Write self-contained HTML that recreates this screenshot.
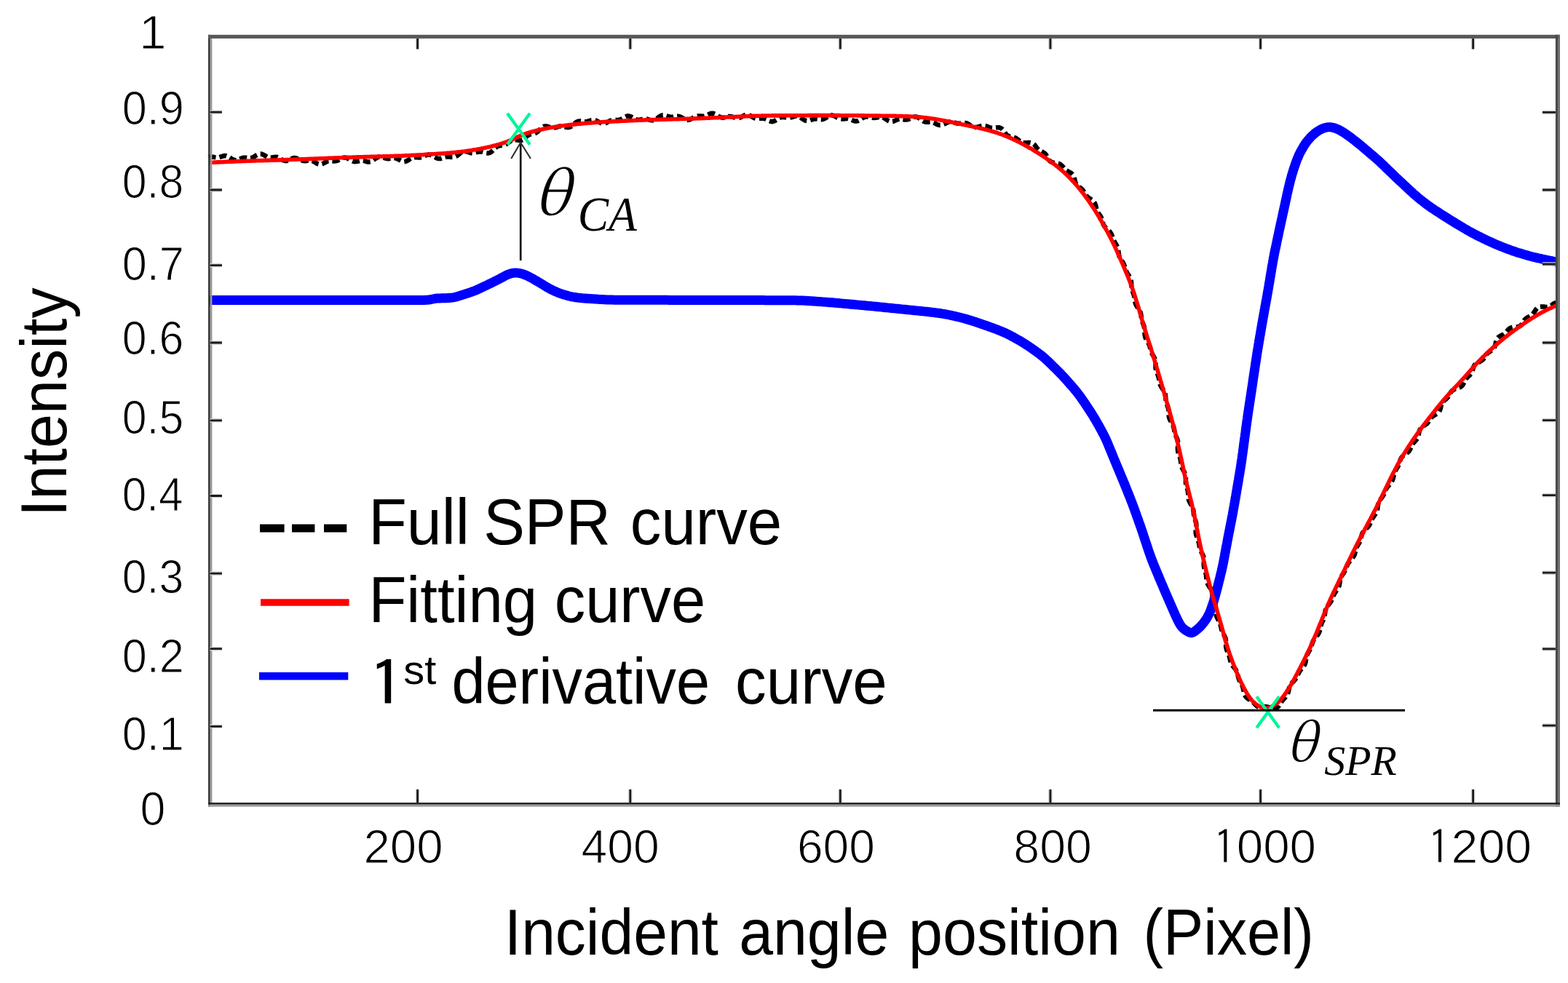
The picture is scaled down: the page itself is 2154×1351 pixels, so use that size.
<!DOCTYPE html><html><head><meta charset="utf-8"><style>html,body{margin:0;padding:0;background:#fff;}svg{display:block;}.s{font-family:"Liberation Sans",Arial,sans-serif;fill:#000;}.m{font-family:"Liberation Serif","Times New Roman",serif;font-style:italic;fill:#000;}.i{font-family:"IPAGothic","Liberation Sans",sans-serif;fill:#000;}.t{font-family:"Noto Serif CJK SC","Liberation Serif",serif;font-style:italic;fill:#000;}</style></head><body>
<svg width="2154" height="1351" viewBox="0 0 2154 1351">
<rect width="2154" height="1351" fill="#fff"/>
<path d="M286.7 216.4L288.6 215.7L290.6 215.5L292.6 215.7L294.7 216.1L296.7 216.4L298.7 216.5L300.7 216.3L302.7 215.7L304.6 215.1L306.6 214.4L308.6 214.1L310.6 214.2L312.6 214.9L314.7 215.9L316.8 217.3L318.8 218.6L320.9 219.6L322.9 220.2L324.9 220.2L326.9 219.7L328.9 218.9L330.8 218L332.8 217.2L334.8 216.8L336.8 216.7L338.8 216.8L340.8 217.1L342.8 217.3L344.8 217.1L346.8 216.5L348.8 215.6L350.7 214.3L352.7 213.1L354.7 212.1L356.7 211.6L358.7 211.6L360.7 212.2L362.7 213.2L364.8 214.4L366.8 215.5L368.8 216.2L370.8 216.6L372.8 216.6L374.8 216.3L376.8 215.9L378.8 215.7L380.8 216L382.8 216.9L384.9 218L386.9 219.2L388.9 220.2L391 220.9L393 221.1L395 220.7L396.9 219.9L398.9 218.8L400.9 217.9L402.8 217.2L404.8 217L406.8 217.3L408.9 218L410.9 218.9L412.9 219.9L415 220.7L417 221.1L419 221.2L421 221L423 220.5L425 220.2L427 220.4L429 221L431 222L433.1 223.3L435.1 224.5L437.2 225.4L439.2 225.9L441.2 225.8L443.2 225.1L445.1 224.1L447.1 223L449.1 222L451 221.3L453 221.1L455 221.1L457 221.3L459 221.4L461 221.3L463 220.8L465 220L467 218.9L468.9 217.8L470.9 216.9L472.9 216.5L474.9 216.6L476.9 217.3L478.9 218.4L481 219.7L483 220.9L485 221.7L487.1 222.2L489.1 222.1L491 221.8L493 221.3L495 220.8L497 220.7L499 220.9L501 221.3L503 221.9L505 222.4L507.1 222.5L509 222.2L511 221.3L513 220L514.9 218.6L516.9 217.2L518.9 216.1L520.9 215.5L522.9 215.5L524.9 215.9L526.9 216.6L528.9 217.4L530.9 217.9L532.9 218.2L534.9 218.1L536.9 217.8L538.9 217.4L540.9 217.2L542.9 217.3L544.9 217.8L547 218.8L549 219.9L551.1 221L553.1 221.8L555.2 222.2L557.2 221.9L559.1 221.1L561.1 219.9L563.1 218.6L565 217.5L567 216.6L569 216.2L571 216.1L573 216.3L575 216.5L577 216.5L579 216.1L581 215.5L582.9 214.5L584.8 213.6L586.8 212.8L588.8 212.5L590.8 212.6L592.9 213.4L594.9 214.5L597 215.8L599.1 216.9L601.2 217.8L603.2 218.1L605.2 218L607.2 217.4L609.1 216.7L611.1 216L613.1 215.5L615.1 215.4L617.1 215.5L619.2 215.8L621.2 216L623.3 216L625.2 215.5L627.2 214.5L629.1 213.1L630.9 211.5L632.8 210L634.6 208.8L636.6 208.2L638.6 208L640.6 208.4L642.7 209L644.9 209.7L647 210.3L649.1 210.5L651.1 210.3L653 209.8L655 209.2L656.9 208.7L658.9 208.4L661 208.5L663.2 208.9L665.4 209.5L667.6 210.1L669.8 210.4L671.8 210.2L673.7 209.5L675.5 208.2L677.2 206.6L678.8 204.8L680.5 203.1L682.2 201.8L684.1 200.8L686 200.3L688 200L690.1 199.8L692.1 199.4L694 198.8L695.8 197.9L697.5 196.7L699.2 195.3L700.9 194.1L702.6 193.1L704.5 192.4L706.7 192.2L709 192.3L711.3 192.6L713.6 192.9L715.6 192.9L717.5 192.5L719.2 191.6L720.8 190.3L722.2 188.8L723.7 187.3L725.3 186L727.1 185.1L728.9 184.4L730.8 184.1L732.8 183.7L734.7 183.2L736.5 182.4L738.2 181.2L739.9 179.7L741.6 177.9L743.2 176.2L745 174.8L746.8 173.8L748.8 173.5L750.9 173.6L753 174.2L755.2 174.9L757.3 175.4L759.4 175.7L761.4 175.6L763.4 175.2L765.3 174.6L767.2 173.9L769.2 173.5L771.2 173.4L773.2 173.7L775.3 174.2L777.4 174.7L779.4 175.1L781.4 175.1L783.3 174.5L785.2 173.4L787.1 171.9L788.9 170.2L790.7 168.7L792.6 167.4L794.6 166.7L796.6 166.4L798.6 166.6L800.6 166.9L802.7 167.2L804.7 167.3L806.7 167L808.7 166.5L810.6 165.8L812.6 165.2L814.6 164.9L816.6 165L818.7 165.6L820.7 166.6L822.8 167.8L824.9 168.9L826.9 169.7L829 170L830.9 169.7L832.9 168.9L834.8 167.8L836.8 166.7L838.7 165.7L840.7 165.1L842.7 164.8L844.7 164.8L846.7 164.9L848.7 165L850.7 164.7L852.7 164.1L854.6 163.1L856.6 161.9L858.5 160.7L860.5 159.8L862.5 159.4L864.5 159.6L866.5 160.3L868.6 161.4L870.6 162.6L872.7 163.7L874.7 164.5L876.7 164.8L878.7 164.7L880.7 164.3L882.7 163.8L884.7 163.5L886.7 163.4L888.7 163.7L890.7 164.2L892.8 164.8L894.8 165.3L896.8 165.4L898.8 164.9L900.7 164L902.7 162.7L904.7 161.2L906.6 159.8L908.6 158.8L910.6 158.3L912.6 158.3L914.6 158.8L916.6 159.5L918.6 160.2L920.6 160.7L922.7 160.8L924.6 160.7L926.6 160.3L928.6 159.9L930.6 159.7L932.6 160L934.6 160.6L936.7 161.6L938.7 162.8L940.7 163.9L942.8 164.7L944.8 165L946.8 164.7L948.8 163.9L950.7 162.7L952.7 161.5L954.6 160.4L956.6 159.7L958.6 159.4L960.6 159.4L962.6 159.6L964.6 159.8L966.6 159.7L968.6 159.3L970.6 158.6L972.5 157.7L974.5 156.7L976.4 156L978.4 155.8L980.4 156L982.5 156.9L984.5 158.1L986.6 159.4L988.6 160.6L990.7 161.4L992.7 161.7L994.7 161.5L996.7 161L998.6 160.3L1000.6 159.9L1002.6 159.9L1004.6 160.2L1006.7 160.8L1008.7 161.5L1010.7 162.1L1012.8 162.4L1014.8 162.3L1016.7 161.6L1018.7 160.6L1020.6 159.5L1022.6 158.4L1024.6 157.8L1026.6 157.7L1028.6 158.1L1030.6 159L1032.7 160.2L1034.7 161.4L1036.7 162.4L1038.7 163.1L1040.7 163.3L1042.7 163L1044.7 162.7L1046.7 162.5L1048.7 162.7L1050.7 163.2L1052.7 164.1L1054.7 165.2L1056.7 166.2L1058.7 166.9L1060.7 167.1L1062.7 166.7L1064.7 165.8L1066.7 164.5L1068.7 163.2L1070.7 162.1L1072.6 161.3L1074.6 160.9L1076.6 161L1078.6 161.4L1080.6 161.7L1082.6 161.9L1084.6 161.8L1086.6 161.4L1088.6 160.8L1090.6 160.1L1092.6 159.6L1094.6 159.5L1096.6 159.9L1098.6 160.9L1100.6 162.2L1102.7 163.6L1104.7 164.9L1106.7 165.8L1108.7 166.1L1110.7 165.9L1112.7 165.4L1114.7 164.6L1116.7 163.9L1118.6 163.4L1120.6 163.3L1122.6 163.5L1124.6 163.8L1126.6 164.1L1128.6 164.2L1130.6 163.8L1132.6 163L1134.6 161.9L1136.6 160.6L1138.6 159.4L1140.6 158.7L1142.6 158.4L1144.6 158.8L1146.6 159.6L1148.6 160.7L1150.6 161.9L1152.6 162.8L1154.6 163.4L1156.6 163.6L1158.6 163.4L1160.6 163.2L1162.6 163L1164.6 163L1166.6 163.4L1168.6 164.2L1170.6 165.1L1172.6 166L1174.6 166.5L1176.6 166.6L1178.6 166.2L1180.6 165.2L1182.6 163.9L1184.6 162.5L1186.6 161.4L1188.6 160.6L1190.6 160.3L1192.6 160.4L1194.6 160.9L1196.6 161.5L1198.6 161.9L1200.6 162.1L1202.6 161.9L1204.6 161.5L1206.6 161L1208.6 160.7L1210.6 160.7L1212.6 161.2L1214.6 162.2L1216.6 163.5L1218.6 164.9L1220.5 166.1L1222.5 167L1224.5 167.3L1226.5 167L1228.5 166.3L1230.5 165.4L1232.5 164.5L1234.5 163.9L1236.5 163.6L1238.5 163.7L1240.5 164L1242.4 164.4L1244.4 164.5L1246.4 164.3L1248.4 163.8L1250.4 162.9L1252.5 161.9L1254.5 161L1256.6 160.5L1258.6 160.5L1260.5 161.1L1262.4 162.2L1264.3 163.6L1266.2 165.1L1268 166.3L1269.9 167.2L1271.8 167.7L1273.8 167.8L1275.7 167.7L1277.7 167.6L1279.7 167.7L1281.6 168.2L1283.5 169L1285.3 170L1287.1 171L1289 171.7L1290.9 172.1L1292.9 172L1295 171.3L1297.2 170.4L1299.5 169.4L1301.7 168.2L1303.9 167.4L1306 167.1L1308 167.3L1310 167.9L1311.8 168.6L1313.8 169.3L1315.7 169.7L1317.7 169.8L1319.8 169.6L1321.9 169.2L1324 169L1326.1 169L1328 169.4L1329.9 170.3L1331.7 171.5L1333.5 172.8L1335.3 173.9L1337.1 174.7L1339.1 174.9L1341.2 174.8L1343.3 174.4L1345.5 173.8L1347.8 173.2L1349.9 172.8L1352 172.8L1354 173.1L1355.9 173.8L1357.8 174.6L1359.7 175.3L1361.7 175.8L1363.7 175.9L1365.9 175.7L1368.1 175.4L1370.4 175.2L1372.5 175.3L1374.5 175.9L1376.3 177.1L1377.9 178.8L1379.3 180.7L1380.7 182.7L1382.2 184.5L1383.8 186L1385.5 187.1L1387.4 187.7L1389.4 188.1L1391.5 188.5L1393.5 189L1395.4 189.7L1397.1 190.8L1398.7 192.1L1400.2 193.5L1401.8 194.7L1403.6 195.7L1405.6 196.2L1407.8 196.3L1410.2 196.2L1412.6 196L1415 195.9L1417.1 196.3L1419 197.1L1420.6 198.4L1422 200L1423.3 201.8L1424.6 203.6L1426 205.2L1427.5 206.6L1429.3 207.6L1431.1 208.5L1432.9 209.4L1434.6 210.5L1436.2 211.8L1437.5 213.5L1438.6 215.4L1439.6 217.5L1440.7 219.4L1442 221.1L1443.5 222.3L1445.4 223.2L1447.5 223.7L1449.8 224.1L1452 224.4L1454.2 224.9L1456.2 225.7L1457.9 226.9L1459.3 228.3L1460.7 229.9L1462 231.5L1463.4 232.9L1465 234.2L1466.8 235.3L1468.6 236.3L1470.5 237.3L1472.2 238.5L1473.6 240L1474.7 241.8L1475.5 243.9L1476.1 246.1L1476.6 248.4L1477.2 250.5L1478 252.5L1479.2 254.2L1480.6 255.6L1482.2 256.8L1483.9 258L1485.5 259.3L1487 260.7L1488.2 262.3L1489.3 264L1490.3 265.7L1491.3 267.5L1492.5 269.1L1493.9 270.6L1495.5 271.9L1497.3 273.1L1499.2 274.3L1500.9 275.5L1502.4 277L1503.6 278.6L1504.5 280.4L1505.2 282.4L1505.6 284.5L1506.1 286.6L1506.7 288.6L1507.5 290.5L1508.4 292.3L1509.5 294L1510.7 295.6L1511.8 297.3L1512.8 299L1513.5 300.9L1514.2 302.9L1514.7 304.9L1515.2 306.9L1515.9 308.8L1516.9 310.5L1518.1 312.1L1519.5 313.6L1521.1 315.1L1522.7 316.5L1524.2 318L1525.4 319.6L1526.5 321.3L1527.3 323.1L1528 325L1528.6 327L1529.3 328.9L1530.1 330.7L1531.1 332.5L1532.1 334.2L1533.2 335.9L1534.2 337.7L1535.1 339.5L1535.7 341.4L1536.1 343.4L1536.4 345.5L1536.7 347.6L1537 349.6L1537.4 351.6L1538.1 353.5L1539 355.3L1540.1 357L1541.2 358.7L1542.3 360.4L1543.3 362.2L1544.1 364L1544.8 365.9L1545.4 367.8L1545.9 369.7L1546.6 371.6L1547.4 373.5L1548.4 375.2L1549.5 376.9L1550.6 378.6L1551.7 380.4L1552.6 382.1L1553.3 384L1553.8 386L1554 388.1L1554.1 390.2L1554.2 392.3L1554.4 394.3L1554.7 396.3L1555.2 398.3L1555.8 400.2L1556.5 402L1557.2 403.9L1557.8 405.8L1558.2 407.8L1558.5 409.8L1558.8 411.8L1559.1 413.8L1559.5 415.7L1560.1 417.6L1560.9 419.5L1561.9 421.2L1563 423L1564.2 424.7L1565.3 426.5L1566.2 428.3L1566.9 430.2L1567.3 432.1L1567.6 434.1L1567.9 436.1L1568.2 438.1L1568.6 440.1L1569.2 442L1569.8 443.9L1570.6 445.8L1571.3 447.7L1571.8 449.6L1572.2 451.5L1572.4 453.6L1572.5 455.6L1572.5 457.7L1572.6 459.8L1572.9 461.8L1573.4 463.7L1574.2 465.6L1575.1 467.4L1576.2 469.2L1577.3 470.9L1578.2 472.7L1579 474.6L1579.6 476.5L1580.2 478.4L1580.6 480.3L1581.2 482.3L1581.8 484.2L1582.6 486L1583.6 487.8L1584.6 489.6L1585.6 491.4L1586.4 493.2L1587 495.1L1587.3 497.1L1587.5 499.2L1587.5 501.3L1587.5 503.3L1587.5 505.4L1587.8 507.4L1588.3 509.4L1588.9 511.3L1589.7 513.1L1590.4 515L1591.1 516.9L1591.7 518.8L1592.1 520.7L1592.5 522.7L1592.8 524.7L1593.2 526.7L1593.8 528.6L1594.6 530.4L1595.6 532.2L1596.7 534L1597.9 535.7L1598.9 537.5L1599.8 539.3L1600.5 541.2L1600.9 543.2L1601.1 545.2L1601.3 547.2L1601.5 549.2L1601.8 551.2L1602.3 553.2L1602.9 555.1L1603.5 557L1604.2 558.9L1604.8 560.8L1605.2 562.8L1605.4 564.8L1605.5 566.8L1605.5 568.9L1605.6 570.9L1605.9 572.9L1606.4 574.9L1607.1 576.7L1608.1 578.5L1609.1 580.3L1610.2 582.1L1611.1 583.9L1611.9 585.8L1612.4 587.7L1612.9 589.7L1613.2 591.6L1613.6 593.6L1614 595.5L1614.7 597.5L1615.4 599.3L1616.2 601.2L1617 603.1L1617.6 605L1618.1 606.9L1618.3 608.9L1618.2 611L1618.1 613.1L1617.9 615.2L1617.9 617.2L1618 619.2L1618.3 621.2L1618.9 623.1L1619.5 625L1620.3 626.9L1620.9 628.8L1621.5 630.7L1621.8 632.7L1622.1 634.7L1622.3 636.7L1622.6 638.7L1623.1 640.6L1623.7 642.5L1624.6 644.4L1625.5 646.2L1626.5 648.1L1627.4 649.9L1628.2 651.8L1628.6 653.7L1628.9 655.7L1628.9 657.8L1628.9 659.8L1628.9 661.9L1629 663.9L1629.3 665.9L1629.8 667.8L1630.4 669.7L1631 671.7L1631.5 673.6L1631.9 675.5L1632.1 677.6L1632.3 679.6L1632.3 681.6L1632.4 683.7L1632.7 685.7L1633.2 687.6L1634 689.4L1634.9 691.3L1635.9 693.1L1637 694.9L1637.9 696.7L1638.7 698.6L1639.2 700.5L1639.5 702.5L1639.7 704.5L1639.9 706.5L1640.2 708.5L1640.6 710.4L1641.2 712.3L1641.8 714.2L1642.4 716.2L1642.9 718.1L1643.3 720.1L1643.4 722.1L1643.3 724.1L1643 726.2L1642.8 728.3L1642.6 730.4L1642.7 732.4L1643 734.4L1643.6 736.3L1644.3 738.2L1645.1 740.1L1645.8 742L1646.4 743.9L1646.9 745.9L1647.3 747.8L1647.6 749.8L1647.9 751.8L1648.3 753.8L1648.9 755.7L1649.7 757.5L1650.7 759.4L1651.6 761.2L1652.5 763.1L1653.2 765L1653.7 766.9L1653.9 768.9L1653.9 771L1653.8 773L1653.7 775.1L1653.8 777.1L1654 779.1L1654.4 781.1L1655 783L1655.6 784.9L1656.2 786.9L1656.7 788.8L1657 790.8L1657.1 792.8L1657.3 794.8L1657.5 796.9L1657.8 798.8L1658.3 800.8L1659.1 802.6L1660.1 804.4L1661.2 806.2L1662.4 808L1663.4 809.8L1664.2 811.6L1664.8 813.6L1665.2 815.5L1665.4 817.5L1665.7 819.5L1666 821.5L1666.5 823.4L1667.1 825.4L1667.9 827.2L1668.6 829.1L1669.3 831L1669.8 832.9L1670.1 834.9L1670.2 836.9L1670.3 839L1670.3 841.1L1670.4 843.2L1670.7 845.2L1671.2 847.1L1672 848.9L1672.9 850.7L1673.9 852.5L1674.9 854.3L1675.8 856.2L1676.4 858L1676.9 860L1677.4 861.9L1677.8 863.9L1678.3 865.8L1678.9 867.7L1679.8 869.6L1680.7 871.4L1681.7 873.2L1682.5 875L1683.3 876.9L1683.8 878.8L1684 880.8L1684.1 882.9L1684.1 885L1684.1 887L1684.2 889.1L1684.6 891.1L1685.1 893L1685.9 894.9L1686.7 896.7L1687.5 898.6L1688.3 900.4L1688.9 902.4L1689.3 904.3L1689.8 906.3L1690.2 908.3L1690.8 910.2L1691.6 912L1692.6 913.8L1693.8 915.5L1695.1 917.1L1696.4 918.8L1697.6 920.4L1698.6 922.2L1699.4 924L1700 925.9L1700.5 927.9L1700.9 929.9L1701.4 931.8L1702.1 933.7L1702.9 935.6L1703.8 937.3L1704.8 939.1L1705.8 940.8L1706.6 942.6L1707.3 944.5L1707.8 946.5L1708.2 948.5L1708.7 950.5L1709.1 952.6L1709.7 954.5L1710.6 956.4L1711.9 958L1713.4 959.4L1715.1 960.7L1716.9 961.8L1718.7 962.9L1720.3 964.1L1721.7 965.4L1723 966.8L1724.3 968.3L1725.7 969.6L1727.3 970.8L1729.2 971.6L1731.2 971.9L1733.2 971.8L1735.3 971.5L1737.2 971.2L1738.9 971.2L1740.5 971.4L1742.4 971.8L1744.5 972.4L1746.9 973L1749.4 973.4L1751.7 973.2L1753.9 972.5L1755.7 971.3L1757.2 969.8L1758.4 968L1759.5 966.1L1760.6 964.3L1761.8 962.6L1763.1 961.1L1764.6 959.6L1766 958.1L1767.3 956.6L1768.4 954.9L1769.2 953L1769.8 951L1770.3 949L1770.7 946.9L1771.1 944.8L1771.8 942.9L1772.7 941.1L1773.8 939.5L1775.2 938L1776.7 936.6L1778.1 935.1L1779.5 933.5L1780.6 931.9L1781.6 930.2L1782.5 928.3L1783.3 926.5L1784.1 924.7L1785.1 922.9L1786.3 921.3L1787.5 919.7L1788.9 918.2L1790.2 916.6L1791.4 914.9L1792.4 913.2L1793.1 911.3L1793.6 909.3L1793.9 907.2L1794.2 905.1L1794.6 903.1L1795.1 901.1L1795.9 899.2L1796.8 897.5L1797.8 895.7L1798.8 894L1799.8 892.2L1800.6 890.4L1801.3 888.5L1801.9 886.6L1802.5 884.7L1803.1 882.8L1803.9 880.9L1804.9 879.2L1806.1 877.5L1807.4 875.9L1808.7 874.3L1810 872.7L1811.2 870.9L1812.1 869.2L1812.8 867.3L1813.3 865.3L1813.7 863.3L1814.1 861.3L1814.6 859.4L1815.3 857.5L1816.1 855.6L1816.9 853.8L1817.8 852L1818.6 850.2L1819.2 848.3L1819.6 846.3L1819.9 844.3L1820.2 842.2L1820.5 840.2L1821 838.2L1821.6 836.3L1822.6 834.5L1823.7 832.9L1825 831.2L1826.3 829.6L1827.5 828L1828.5 826.3L1829.4 824.5L1830.2 822.6L1830.9 820.8L1831.6 818.9L1832.5 817.1L1833.4 815.4L1834.5 813.7L1835.7 812L1836.9 810.4L1838 808.7L1838.9 806.9L1839.6 805L1840 803L1840.4 801L1840.7 798.9L1841 796.9L1841.6 794.9L1842.3 793L1843.3 791.3L1844.4 789.6L1845.5 787.9L1846.6 786.2L1847.5 784.4L1848.4 782.6L1849.1 780.7L1849.8 778.9L1850.5 777L1851.4 775.2L1852.4 773.5L1853.7 771.9L1855 770.3L1856.5 768.8L1857.8 767.2L1859 765.6L1860 763.8L1860.8 762L1861.4 760.1L1861.9 758.1L1862.3 756.1L1862.9 754.1L1863.6 752.3L1864.5 750.5L1865.5 748.8L1866.6 747.1L1867.6 745.3L1868.4 743.5L1869.1 741.6L1869.6 739.6L1870 737.6L1870.6 735.6L1871.2 733.7L1872.1 731.9L1873.3 730.3L1874.6 728.7L1876.2 727.3L1877.7 725.8L1879.2 724.3L1880.4 722.7L1881.5 721L1882.4 719.2L1883.1 717.4L1883.8 715.5L1884.7 713.7L1885.6 711.9L1886.7 710.2L1887.9 708.6L1889.1 706.9L1890.2 705.2L1891.1 703.4L1891.7 701.5L1892.2 699.5L1892.5 697.4L1892.8 695.3L1893.1 693.3L1893.7 691.3L1894.5 689.5L1895.5 687.7L1896.6 686.1L1897.9 684.4L1899 682.8L1900.1 681.1L1901 679.3L1901.8 677.5L1902.6 675.6L1903.3 673.8L1904.2 671.9L1905.2 670.2L1906.4 668.6L1907.8 667L1909.2 665.5L1910.5 663.9L1911.7 662.2L1912.6 660.5L1913.3 658.6L1913.9 656.7L1914.3 654.6L1914.7 652.6L1915.2 650.7L1915.9 648.8L1916.8 647L1917.8 645.3L1918.9 643.6L1919.9 641.9L1920.9 640.1L1921.7 638.3L1922.3 636.4L1922.9 634.4L1923.5 632.5L1924.3 630.6L1925.3 628.9L1926.6 627.3L1928.2 626L1929.9 624.7L1931.7 623.4L1933.4 622.1L1934.9 620.7L1936.1 619.1L1937.1 617.4L1937.9 615.6L1938.7 613.7L1939.5 611.9L1940.6 610.2L1941.8 608.6L1943.1 607.2L1944.5 605.7L1945.8 604.2L1946.9 602.6L1947.8 600.7L1948.4 598.8L1948.9 596.6L1949.3 594.5L1949.8 592.4L1950.6 590.5L1951.7 588.8L1953.1 587.3L1954.7 586.1L1956.5 584.9L1958.2 583.7L1959.9 582.5L1961.3 581L1962.5 579.4L1963.6 577.8L1964.7 576.1L1965.8 574.5L1967.2 573L1968.8 571.7L1970.6 570.6L1972.5 569.5L1974.3 568.4L1975.8 567.1L1977.1 565.6L1978 563.8L1978.7 561.8L1979.2 559.6L1979.7 557.5L1980.4 555.4L1981.3 553.6L1982.5 552L1983.9 550.6L1985.4 549.3L1986.9 548L1988.3 546.6L1989.6 545L1990.7 543.3L1991.6 541.5L1992.6 539.7L1993.7 538L1995.2 536.6L1996.9 535.5L1998.8 534.6L2001 533.9L2003.2 533.2L2005.3 532.4L2007.1 531.4L2008.5 530L2009.7 528.4L2010.7 526.5L2011.6 524.6L2012.5 522.7L2013.6 521L2014.8 519.5L2016.3 518.1L2017.8 516.7L2019.2 515.4L2020.5 513.9L2021.6 512.2L2022.4 510.2L2023.1 508.2L2023.7 506L2024.4 504L2025.3 502.2L2026.6 500.6L2028.2 499.4L2030.1 498.4L2032 497.5L2033.8 496.5L2035.6 495.4L2037.1 494.1L2038.4 492.6L2039.5 490.9L2040.5 489.1L2041.6 487.4L2042.9 485.9L2044.4 484.5L2046.1 483.4L2047.8 482.4L2049.6 481.3L2051.1 480.1L2052.4 478.5L2053.3 476.6L2054 474.4L2054.6 471.9L2055.1 469.4L2055.7 467.1L2056.7 465.1L2058.1 463.6L2059.8 462.4L2061.6 461.4L2063.5 460.5L2065.3 459.6L2066.9 458.4L2068.4 457L2069.8 455.5L2071.1 453.9L2072.5 452.4L2074.2 451.2L2076.1 450.4L2078.2 449.9L2080.5 449.6L2082.9 449.4L2085.1 449.1L2087.1 448.5L2088.9 447.5L2090.3 446.1L2091.5 444.3L2092.7 442.4L2093.8 440.5L2095.1 438.8L2096.6 437.5L2098.3 436.3L2100.1 435.4L2101.9 434.5L2103.6 433.5L2105.2 432.1L2106.6 430.5L2107.8 428.6L2109.1 426.7L2110.4 424.8L2111.9 423.2L2113.6 422.1L2115.6 421.6L2117.9 421.4L2120.3 421.6L2122.7 421.8L2124.9 421.9L2127 421.6L2128.9 421L2130.7 420L2132.3 418.8L2134 417.6L2135.7 416.6L2137.6 415.9" fill="none" stroke="#000" stroke-width="6.5" stroke-dasharray="10 5"/>
<path d="M287 412.6L289 412.6L291 412.6L293 412.6L295 412.6L297 412.6L299 412.6L301 412.6L303 412.6L305 412.6L307 412.6L309 412.6L311 412.6L313 412.6L315 412.6L317 412.6L319 412.6L321 412.6L323 412.6L325 412.6L327 412.6L329 412.6L331 412.6L333 412.6L335 412.6L337 412.6L339 412.6L341 412.6L343 412.6L345 412.6L347 412.6L349 412.6L351 412.6L353 412.6L355 412.6L357 412.6L359 412.6L361 412.6L363 412.6L365 412.6L367 412.6L369 412.6L371 412.6L373 412.6L375 412.6L377 412.6L379 412.6L381 412.6L383 412.6L385 412.6L387 412.6L389 412.6L391 412.6L393 412.6L395 412.6L397 412.6L399 412.6L401 412.6L403 412.6L405 412.6L407 412.6L409 412.6L411 412.6L413 412.6L415 412.6L417 412.6L419 412.6L421 412.6L423 412.6L425 412.5L427 412.5L429 412.5L431 412.5L433 412.5L435 412.5L437 412.5L439 412.5L441 412.5L443 412.5L445 412.5L447 412.5L449 412.5L451 412.5L453 412.5L455 412.5L457 412.5L459 412.5L461 412.5L463 412.5L465 412.5L467 412.5L469 412.5L471 412.5L473 412.5L475 412.5L477 412.5L479 412.5L481 412.5L483 412.5L485 412.5L487 412.5L489 412.5L491 412.5L493 412.5L495 412.5L497 412.5L499 412.5L501 412.5L503 412.5L505 412.5L507 412.5L509 412.5L511 412.5L513 412.5L515 412.5L517 412.5L519 412.5L521 412.5L523 412.5L525 412.5L527 412.5L529 412.5L531 412.5L533 412.5L535 412.5L537 412.5L539 412.5L541 412.5L543 412.5L545 412.5L547 412.5L549 412.5L551 412.5L553 412.5L555 412.5L557 412.5L559 412.5L561 412.5L563 412.5L565 412.5L567 412.5L569 412.5L571 412.5L573 412.5L575 412.5L577 412.5L579 412.5L581 412.4L583 412.4L585 412.3L586.9 412.2L588.9 412L590.9 411.7L592.8 411.4L594.7 411L596.7 410.6L598.6 410.2L600.6 410L602.6 409.9L604.6 409.9L606.6 409.8L608.6 409.8L610.6 409.7L612.6 409.7L614.6 409.6L616.5 409.5L618.5 409.3L620.5 409.1L622.5 408.9L624.4 408.5L626.3 408.1L628.3 407.5L630.2 406.9L632.1 406.3L634 405.7L635.9 405.1L637.8 404.5L639.7 403.9L641.6 403.3L643.5 402.7L645.4 402L647.3 401.4L649.2 400.7L651 400L652.9 399.3L654.7 398.5L656.5 397.7L658.4 396.8L660.2 396L662 395.1L663.8 394.3L665.6 393.4L667.4 392.6L669.2 391.7L671 390.8L672.8 390L674.6 389.1L676.4 388.2L678.2 387.3L680 386.4L681.8 385.5L683.6 384.6L685.3 383.7L687.1 382.8L688.9 381.8L690.6 380.9L692.4 379.9L694.2 379L695.9 378.1L697.7 377.3L699.6 376.6L701.4 376L703.3 375.5L705.2 375.2L707.2 375.1L709.2 375.1L711.2 375.2L713.1 375.4L715.1 375.8L717 376.3L718.9 376.9L720.7 377.6L722.6 378.3L724.4 379.1L726.2 380L727.9 380.9L729.7 381.9L731.4 382.8L733.2 383.8L734.9 384.8L736.6 385.8L738.4 386.8L740.1 387.8L741.8 388.9L743.5 389.9L745.2 390.9L746.9 392L748.6 393L750.4 394.1L752.1 395.1L753.8 396.1L755.5 397L757.3 398L759.1 398.8L760.9 399.7L762.7 400.5L764.6 401.3L766.4 402.1L768.3 402.8L770.2 403.5L772 404.1L773.9 404.7L775.9 405.3L777.8 405.9L779.7 406.4L781.6 407L783.6 407.4L785.5 407.8L787.5 408.2L789.4 408.5L791.4 408.8L793.4 409.1L795.4 409.3L797.4 409.5L799.4 409.7L801.4 409.9L803.3 410L805.3 410.2L807.3 410.3L809.3 410.4L811.3 410.6L813.3 410.7L815.3 410.8L817.3 411L819.3 411.1L821.3 411.2L823.3 411.4L825.3 411.5L827.3 411.6L829.3 411.7L831.3 411.8L833.3 411.9L835.3 412L837.3 412.1L839.3 412.1L841.3 412.1L843.3 412.2L845.3 412.2L847.3 412.2L849.3 412.2L851.3 412.2L853.3 412.2L855.3 412.2L857.3 412.2L859.3 412.2L861.3 412.2L863.3 412.2L865.3 412.3L867.3 412.3L869.3 412.3L871.3 412.3L873.3 412.3L875.3 412.3L877.3 412.3L879.3 412.3L881.3 412.3L883.3 412.3L885.3 412.3L887.3 412.3L889.3 412.3L891.3 412.3L893.3 412.3L895.3 412.3L897.3 412.3L899.3 412.3L901.3 412.3L903.3 412.3L905.3 412.3L907.3 412.3L909.3 412.3L911.3 412.3L913.3 412.3L915.3 412.3L917.3 412.3L919.3 412.4L921.3 412.4L923.3 412.4L925.3 412.4L927.3 412.4L929.3 412.4L931.3 412.4L933.3 412.4L935.3 412.4L937.3 412.4L939.3 412.4L941.3 412.4L943.3 412.4L945.3 412.4L947.3 412.4L949.3 412.4L951.3 412.4L953.3 412.4L955.3 412.4L957.3 412.4L959.3 412.4L961.3 412.4L963.3 412.4L965.3 412.4L967.3 412.4L969.3 412.4L971.3 412.4L973.3 412.5L975.3 412.5L977.3 412.5L979.3 412.5L981.3 412.5L983.3 412.5L985.3 412.5L987.3 412.5L989.3 412.5L991.3 412.5L993.3 412.5L995.3 412.5L997.3 412.5L999.3 412.5L1001.3 412.5L1003.3 412.5L1005.3 412.5L1007.3 412.5L1009.3 412.5L1011.3 412.5L1013.3 412.5L1015.3 412.5L1017.3 412.6L1019.3 412.6L1021.3 412.6L1023.3 412.6L1025.3 412.6L1027.3 412.6L1029.3 412.6L1031.3 412.6L1033.3 412.6L1035.3 412.6L1037.3 412.6L1039.3 412.6L1041.3 412.6L1043.3 412.6L1045.3 412.6L1047.3 412.6L1049.3 412.6L1051.3 412.7L1053.3 412.7L1055.3 412.7L1057.3 412.7L1059.3 412.7L1061.3 412.7L1063.3 412.7L1065.3 412.7L1067.3 412.7L1069.3 412.7L1071.3 412.7L1073.3 412.7L1075.3 412.7L1077.3 412.7L1079.3 412.7L1081.3 412.7L1083.3 412.8L1085.3 412.8L1087.3 412.8L1089.3 412.8L1091.3 412.8L1093.3 412.8L1095.3 412.9L1097.3 412.9L1099.3 413L1101.3 413.1L1103.3 413.1L1105.3 413.2L1107.3 413.3L1109.3 413.5L1111.2 413.6L1113.2 413.7L1115.2 413.8L1117.2 414L1119.2 414.1L1121.2 414.2L1123.2 414.4L1125.2 414.5L1127.2 414.6L1129.2 414.8L1131.2 414.9L1133.2 415.1L1135.2 415.2L1137.2 415.4L1139.2 415.5L1141.2 415.7L1143.2 415.8L1145.2 416L1147.2 416.2L1149.1 416.4L1151.1 416.5L1153.1 416.7L1155.1 416.9L1157.1 417.1L1159.1 417.3L1161.1 417.4L1163.1 417.6L1165.1 417.8L1167.1 418L1169.1 418.2L1171.1 418.3L1173 418.5L1175 418.7L1177 418.9L1179 419.1L1181 419.3L1183 419.4L1185 419.6L1187 419.8L1189 420L1191 420.2L1193 420.4L1195 420.5L1196.9 420.7L1198.9 420.9L1200.9 421.1L1202.9 421.3L1204.9 421.5L1206.9 421.7L1208.9 421.9L1210.9 422.1L1212.9 422.3L1214.9 422.5L1216.8 422.7L1218.8 422.9L1220.8 423.1L1222.8 423.3L1224.8 423.5L1226.8 423.7L1228.8 423.9L1230.8 424.1L1232.8 424.3L1234.8 424.5L1236.7 424.7L1238.7 424.9L1240.7 425.1L1242.7 425.3L1244.7 425.5L1246.7 425.7L1248.7 425.9L1250.7 426.1L1252.7 426.3L1254.7 426.5L1256.6 426.7L1258.6 426.9L1260.6 427.1L1262.6 427.3L1264.6 427.5L1266.6 427.7L1268.6 427.9L1270.6 428.1L1272.6 428.3L1274.6 428.5L1276.5 428.7L1278.5 429L1280.5 429.2L1282.5 429.4L1284.5 429.7L1286.5 430L1288.4 430.2L1290.4 430.5L1292.4 430.8L1294.4 431.1L1296.3 431.4L1298.3 431.8L1300.3 432.1L1302.2 432.5L1304.2 432.9L1306.2 433.3L1308.1 433.7L1310.1 434.2L1312 434.6L1314 435.1L1315.9 435.5L1317.8 436L1319.8 436.5L1321.7 437L1323.7 437.5L1325.6 438L1327.5 438.6L1329.4 439.1L1331.3 439.7L1333.2 440.3L1335.1 440.9L1337.1 441.5L1339 442.1L1340.8 442.8L1342.7 443.4L1344.6 444L1346.5 444.7L1348.4 445.3L1350.3 446L1352.2 446.6L1354.1 447.3L1356 447.9L1357.9 448.6L1359.8 449.3L1361.6 450L1363.5 450.6L1365.4 451.3L1367.3 452L1369.1 452.7L1371 453.4L1372.9 454.2L1374.7 454.9L1376.6 455.7L1378.4 456.5L1380.2 457.3L1382 458.1L1383.8 459L1385.6 459.9L1387.4 460.8L1389.1 461.7L1390.9 462.7L1392.6 463.6L1394.4 464.6L1396.1 465.6L1397.9 466.6L1399.6 467.5L1401.4 468.5L1403.1 469.6L1404.8 470.6L1406.5 471.6L1408.2 472.7L1409.9 473.8L1411.5 474.9L1413.2 476L1414.8 477.1L1416.5 478.3L1418.1 479.4L1419.8 480.6L1421.4 481.7L1423 482.9L1424.6 484L1426.2 485.2L1427.8 486.4L1429.4 487.6L1431 488.9L1432.5 490.1L1434.1 491.4L1435.6 492.7L1437 494.1L1438.5 495.4L1440 496.8L1441.4 498.2L1442.8 499.6L1444.3 501L1445.7 502.4L1447.1 503.8L1448.5 505.2L1450 506.6L1451.4 508L1452.8 509.4L1454.2 510.8L1455.6 512.2L1457 513.7L1458.4 515.1L1459.8 516.6L1461.1 518L1462.5 519.5L1463.8 521L1465.2 522.5L1466.5 524L1467.8 525.5L1469.1 527L1470.4 528.5L1471.8 530L1473.1 531.5L1474.4 533L1475.7 534.5L1476.9 536.1L1478.2 537.6L1479.5 539.2L1480.7 540.7L1481.9 542.3L1483.1 543.9L1484.3 545.5L1485.4 547.2L1486.6 548.8L1487.7 550.4L1488.8 552.1L1490 553.7L1491.1 555.4L1492.2 557.1L1493.3 558.7L1494.4 560.4L1495.5 562.1L1496.6 563.7L1497.7 565.4L1498.8 567.1L1499.9 568.8L1500.9 570.5L1502 572.2L1503 573.9L1504 575.6L1505 577.3L1506 579L1507 580.8L1508 582.5L1509 584.3L1510 586L1510.9 587.8L1511.9 589.5L1512.9 591.3L1513.8 593L1514.7 594.8L1515.7 596.6L1516.6 598.3L1517.5 600.1L1518.3 601.9L1519.2 603.7L1520 605.6L1520.8 607.4L1521.6 609.2L1522.4 611.1L1523.1 612.9L1523.9 614.8L1524.6 616.6L1525.4 618.5L1526.2 620.3L1526.9 622.2L1527.7 624L1528.4 625.9L1529.2 627.7L1529.9 629.6L1530.7 631.4L1531.5 633.3L1532.2 635.1L1533 637L1533.8 638.8L1534.5 640.7L1535.3 642.5L1536.1 644.3L1536.9 646.2L1537.6 648L1538.4 649.9L1539.2 651.7L1539.9 653.6L1540.7 655.4L1541.5 657.3L1542.2 659.1L1543 661L1543.8 662.8L1544.5 664.7L1545.3 666.5L1546 668.4L1546.8 670.2L1547.5 672.1L1548.3 673.9L1549 675.8L1549.7 677.7L1550.5 679.5L1551.2 681.4L1552 683.2L1552.7 685.1L1553.4 686.9L1554.1 688.8L1554.9 690.7L1555.6 692.5L1556.3 694.4L1557 696.3L1557.7 698.2L1558.4 700L1559 701.9L1559.7 703.8L1560.4 705.7L1561.1 707.6L1561.7 709.5L1562.4 711.3L1563.1 713.2L1563.8 715.1L1564.4 717L1565.1 718.9L1565.8 720.8L1566.4 722.7L1567.1 724.5L1567.7 726.4L1568.4 728.3L1569 730.2L1569.7 732.1L1570.3 734L1570.9 735.9L1571.5 737.8L1572.2 739.7L1572.8 741.6L1573.4 743.5L1574.1 745.4L1574.7 747.3L1575.3 749.2L1575.9 751.1L1576.6 753L1577.2 754.9L1577.8 756.8L1578.5 758.7L1579.1 760.6L1579.8 762.5L1580.4 764.3L1581.1 766.2L1581.8 768.1L1582.5 770L1583.3 771.8L1584 773.7L1584.7 775.5L1585.5 777.4L1586.3 779.2L1587 781.1L1587.8 782.9L1588.6 784.8L1589.3 786.6L1590.1 788.5L1590.9 790.3L1591.6 792.2L1592.4 794L1593.2 795.9L1594 797.7L1594.7 799.5L1595.5 801.4L1596.3 803.2L1597.1 805.1L1597.9 806.9L1598.6 808.7L1599.4 810.6L1600.2 812.4L1601 814.3L1601.8 816.1L1602.6 817.9L1603.4 819.8L1604.2 821.6L1605 823.4L1605.8 825.3L1606.6 827.1L1607.4 828.9L1608.2 830.8L1609 832.6L1609.8 834.4L1610.6 836.3L1611.4 838.1L1612.2 839.9L1613 841.8L1613.8 843.6L1614.6 845.4L1615.5 847.2L1616.3 849L1617.2 850.8L1618 852.6L1618.9 854.4L1619.8 856.1L1620.8 857.8L1621.8 859.5L1623 861L1624.2 862.5L1625.6 863.8L1627.1 865L1628.7 866.2L1630.3 867.2L1632 868.2L1633.7 869.1L1635.3 869.6L1637 869.7L1638.6 869.3L1640.1 868.5L1641.7 867.4L1643.2 866.2L1644.7 865L1646.2 863.7L1647.7 862.3L1649.1 860.9L1650.4 859.4L1651.7 857.9L1653 856.4L1654.2 854.8L1655.4 853.3L1656.5 851.6L1657.6 850L1658.6 848.3L1659.5 846.5L1660.4 844.8L1661.3 843L1662.1 841.2L1662.8 839.4L1663.5 837.5L1664.2 835.6L1664.8 833.7L1665.4 831.8L1666.1 829.9L1666.7 828L1667.3 826.1L1667.8 824.2L1668.4 822.3L1669 820.4L1669.5 818.5L1670 816.5L1670.6 814.6L1671.1 812.7L1671.6 810.7L1672.1 808.8L1672.6 806.9L1673.1 804.9L1673.6 803L1674 801L1674.5 799.1L1675 797.2L1675.5 795.2L1676 793.3L1676.4 791.3L1676.9 789.4L1677.4 787.5L1677.9 785.5L1678.3 783.6L1678.7 781.6L1679.2 779.7L1679.6 777.7L1680 775.7L1680.4 773.8L1680.8 771.8L1681.2 769.9L1681.5 767.9L1681.9 765.9L1682.3 764L1682.6 762L1683 760L1683.4 758.1L1683.7 756.1L1684.1 754.1L1684.5 752.2L1684.8 750.2L1685.2 748.2L1685.6 746.3L1685.9 744.3L1686.3 742.3L1686.7 740.4L1687 738.4L1687.4 736.4L1687.8 734.5L1688.2 732.5L1688.6 730.6L1689 728.6L1689.4 726.6L1689.7 724.7L1690.1 722.7L1690.5 720.7L1690.9 718.8L1691.3 716.8L1691.7 714.9L1692 712.9L1692.4 710.9L1692.8 709L1693.2 707L1693.5 705L1693.9 703.1L1694.2 701.1L1694.6 699.1L1694.9 697.2L1695.3 695.2L1695.6 693.2L1696 691.3L1696.3 689.3L1696.7 687.3L1697 685.3L1697.3 683.4L1697.7 681.4L1698 679.4L1698.4 677.5L1698.7 675.5L1699 673.5L1699.4 671.5L1699.7 669.6L1700 667.6L1700.4 665.6L1700.7 663.7L1701 661.7L1701.4 659.7L1701.7 657.7L1702 655.8L1702.3 653.8L1702.7 651.8L1703 649.8L1703.3 647.9L1703.6 645.9L1704 643.9L1704.3 641.9L1704.6 640L1704.9 638L1705.2 636L1705.5 634L1705.8 632.1L1706.1 630.1L1706.3 628.1L1706.6 626.1L1706.9 624.1L1707.2 622.2L1707.4 620.2L1707.7 618.2L1708 616.2L1708.2 614.2L1708.5 612.2L1708.7 610.3L1709 608.3L1709.3 606.3L1709.5 604.3L1709.8 602.3L1710.1 600.4L1710.3 598.4L1710.6 596.4L1710.9 594.4L1711.1 592.4L1711.4 590.4L1711.6 588.5L1711.9 586.5L1712.2 584.5L1712.5 582.5L1712.7 580.5L1713 578.5L1713.3 576.6L1713.6 574.6L1713.8 572.6L1714.1 570.6L1714.4 568.6L1714.7 566.7L1715 564.7L1715.3 562.7L1715.6 560.7L1715.9 558.8L1716.2 556.8L1716.5 554.8L1716.8 552.8L1717.1 550.8L1717.4 548.9L1717.7 546.9L1718 544.9L1718.3 542.9L1718.6 541L1718.9 539L1719.2 537L1719.5 535L1719.8 533L1720.1 531.1L1720.4 529.1L1720.7 527.1L1721 525.1L1721.2 523.2L1721.5 521.2L1721.8 519.2L1722.1 517.2L1722.4 515.2L1722.7 513.3L1723 511.3L1723.3 509.3L1723.6 507.3L1723.9 505.4L1724.2 503.4L1724.5 501.4L1724.8 499.4L1725.1 497.4L1725.4 495.5L1725.7 493.5L1726 491.5L1726.3 489.5L1726.6 487.6L1726.9 485.6L1727.2 483.6L1727.5 481.6L1727.8 479.7L1728.2 477.7L1728.5 475.7L1728.8 473.7L1729.2 471.8L1729.5 469.8L1729.8 467.8L1730.2 465.9L1730.5 463.9L1730.8 461.9L1731.2 459.9L1731.5 458L1731.8 456L1732.2 454L1732.5 452.1L1732.9 450.1L1733.2 448.1L1733.5 446.1L1733.9 444.2L1734.2 442.2L1734.6 440.2L1734.9 438.3L1735.3 436.3L1735.6 434.3L1736 432.4L1736.3 430.4L1736.7 428.4L1737 426.4L1737.4 424.5L1737.7 422.5L1738.1 420.5L1738.5 418.6L1738.8 416.6L1739.2 414.6L1739.5 412.7L1739.9 410.7L1740.2 408.7L1740.6 406.8L1740.9 404.8L1741.3 402.8L1741.6 400.9L1741.9 398.9L1742.3 396.9L1742.6 394.9L1743 393L1743.3 391L1743.6 389L1744 387.1L1744.3 385.1L1744.6 383.1L1744.9 381.1L1745.3 379.2L1745.6 377.2L1745.9 375.2L1746.3 373.2L1746.6 371.3L1746.9 369.3L1747.2 367.3L1747.6 365.4L1747.9 363.4L1748.3 361.4L1748.6 359.4L1749 357.5L1749.3 355.5L1749.7 353.5L1750.1 351.6L1750.4 349.6L1750.8 347.7L1751.2 345.7L1751.6 343.7L1752 341.8L1752.5 339.8L1752.9 337.9L1753.3 335.9L1753.7 333.9L1754.1 332L1754.5 330L1754.9 328.1L1755.3 326.1L1755.8 324.2L1756.2 322.2L1756.6 320.3L1757 318.3L1757.4 316.3L1757.8 314.4L1758.3 312.4L1758.7 310.5L1759.1 308.5L1759.5 306.6L1760 304.6L1760.4 302.7L1760.8 300.7L1761.3 298.8L1761.7 296.8L1762.1 294.8L1762.5 292.9L1763 290.9L1763.4 289L1763.8 287L1764.2 285.1L1764.7 283.1L1765.1 281.2L1765.5 279.2L1765.9 277.3L1766.3 275.3L1766.8 273.3L1767.2 271.4L1767.6 269.4L1768 267.5L1768.4 265.5L1768.9 263.6L1769.3 261.6L1769.8 259.7L1770.2 257.7L1770.7 255.8L1771.2 253.8L1771.6 251.9L1772.1 250L1772.6 248L1773.1 246.1L1773.7 244.2L1774.2 242.2L1774.7 240.3L1775.3 238.4L1775.9 236.5L1776.4 234.6L1777 232.7L1777.7 230.8L1778.3 228.9L1779 227L1779.6 225.1L1780.3 223.2L1781 221.3L1781.7 219.5L1782.5 217.6L1783.2 215.8L1784 214L1784.8 212.1L1785.7 210.3L1786.6 208.6L1787.6 206.8L1788.6 205.1L1789.6 203.3L1790.6 201.6L1791.6 199.9L1792.7 198.3L1793.8 196.6L1795 195L1796.2 193.5L1797.5 191.9L1798.8 190.4L1800.1 188.9L1801.5 187.5L1802.9 186.1L1804.4 184.8L1805.9 183.5L1807.5 182.3L1809.1 181.1L1810.7 180L1812.4 179L1814.1 178L1815.9 177.2L1817.7 176.4L1819.6 175.8L1821.5 175.3L1823.4 174.9L1825.3 174.7L1827.3 174.8L1829.2 175L1831.1 175.4L1833.1 175.9L1834.9 176.5L1836.7 177.2L1838.5 178L1840.3 178.9L1842 179.9L1843.7 180.9L1845.4 181.9L1847.1 183L1848.8 184.1L1850.4 185.3L1852 186.4L1853.7 187.6L1855.3 188.8L1856.9 190L1858.4 191.2L1860 192.4L1861.6 193.6L1863.2 194.9L1864.7 196.1L1866.3 197.4L1867.8 198.7L1869.4 199.9L1870.9 201.2L1872.5 202.5L1874 203.8L1875.5 205.1L1877 206.4L1878.6 207.7L1880.1 209L1881.6 210.3L1883.1 211.6L1884.6 212.9L1886.2 214.2L1887.7 215.5L1889.2 216.8L1890.7 218.1L1892.2 219.4L1893.7 220.8L1895.1 222.1L1896.6 223.5L1898.1 224.9L1899.5 226.2L1900.9 227.6L1902.4 229L1903.8 230.4L1905.3 231.8L1906.7 233.2L1908.1 234.5L1909.6 235.9L1911 237.3L1912.5 238.7L1913.9 240.1L1915.3 241.5L1916.8 242.9L1918.2 244.3L1919.7 245.6L1921.1 247L1922.6 248.4L1924 249.7L1925.5 251.1L1927 252.5L1928.4 253.8L1929.9 255.2L1931.4 256.6L1932.8 257.9L1934.3 259.3L1935.7 260.7L1937.2 262L1938.7 263.4L1940.2 264.7L1941.6 266.1L1943.1 267.4L1944.6 268.7L1946.1 270L1947.7 271.3L1949.2 272.6L1950.8 273.8L1952.3 275.1L1953.9 276.3L1955.5 277.6L1957.1 278.8L1958.7 280L1960.3 281.2L1961.9 282.4L1963.5 283.5L1965.1 284.7L1966.8 285.8L1968.4 286.9L1970.1 288L1971.7 289.1L1973.4 290.2L1975.1 291.3L1976.8 292.4L1978.5 293.5L1980.1 294.6L1981.8 295.7L1983.5 296.7L1985.2 297.8L1986.9 298.9L1988.6 299.9L1990.3 301L1992 302.1L1993.7 303.1L1995.4 304.2L1997.1 305.2L1998.8 306.3L2000.5 307.3L2002.2 308.3L2003.9 309.4L2005.6 310.4L2007.3 311.4L2009.1 312.4L2010.8 313.5L2012.5 314.5L2014.2 315.5L2016 316.5L2017.7 317.5L2019.4 318.5L2021.2 319.4L2022.9 320.4L2024.7 321.3L2026.5 322.2L2028.3 323.2L2030 324.1L2031.8 325L2033.6 325.8L2035.4 326.7L2037.2 327.6L2039 328.5L2040.8 329.4L2042.6 330.2L2044.4 331.1L2046.2 331.9L2048 332.8L2049.9 333.6L2051.7 334.4L2053.5 335.2L2055.4 336L2057.2 336.7L2059.1 337.5L2060.9 338.3L2062.8 339L2064.6 339.7L2066.5 340.5L2068.3 341.2L2070.2 341.9L2072.1 342.6L2073.9 343.3L2075.8 344L2077.7 344.7L2079.6 345.3L2081.5 345.9L2083.4 346.6L2085.3 347.2L2087.2 347.7L2089.1 348.3L2091 348.9L2093 349.5L2094.9 350L2096.8 350.6L2098.7 351.1L2100.6 351.7L2102.6 352.2L2104.5 352.7L2106.4 353.2L2108.4 353.7L2110.3 354.1L2112.3 354.6L2114.2 355L2116.2 355.4L2118.1 355.9L2120.1 356.3L2122 356.7L2124 357.1L2125.9 357.5L2127.9 357.9L2129.8 358.3L2131.7 358.7L2133.5 359.1L2135.4 359.5L2137.3 359.9L2139.1 360.3" fill="none" stroke="#0000ff" stroke-width="13" stroke-linejoin="round"/>
<path d="M287 223.5L289 223.4L291 223.3L293 223.2L295 223.1L297 223L299 222.9L301 222.9L303 222.8L305 222.7L307 222.6L309 222.5L311 222.4L313 222.3L315 222.2L317 222.1L319 222.1L321 222L323 221.9L325 221.8L327 221.7L329 221.6L331 221.6L333 221.5L335 221.4L337 221.4L339 221.3L341 221.2L342.9 221.2L344.9 221.1L346.9 221L348.9 221L350.9 220.9L352.9 220.8L354.9 220.8L356.9 220.7L358.9 220.7L360.9 220.6L362.9 220.5L364.9 220.5L366.9 220.4L368.9 220.4L370.9 220.3L372.9 220.2L374.9 220.2L376.9 220.1L378.9 220.1L380.9 220L382.9 219.9L384.9 219.9L386.9 219.8L388.9 219.7L390.9 219.7L392.9 219.6L394.9 219.5L396.9 219.5L398.9 219.4L400.9 219.3L402.9 219.3L404.9 219.2L406.9 219.1L408.9 219L410.9 219L412.9 218.9L414.9 218.8L416.9 218.7L418.9 218.7L420.9 218.6L422.9 218.5L424.9 218.4L426.9 218.4L428.9 218.3L430.9 218.2L432.9 218.1L434.9 218L436.9 218L438.9 217.9L440.9 217.8L442.9 217.7L444.9 217.7L446.9 217.6L448.9 217.5L450.9 217.4L452.9 217.3L454.9 217.3L456.9 217.2L458.9 217.1L460.9 217L462.9 217L464.9 216.9L466.9 216.8L468.9 216.7L470.9 216.7L472.9 216.6L474.9 216.5L476.9 216.4L478.9 216.4L480.9 216.3L482.9 216.2L484.9 216.1L486.9 216.1L488.9 216L490.9 215.9L492.9 215.9L494.9 215.8L496.9 215.8L498.9 215.7L500.9 215.6L502.8 215.6L504.8 215.5L506.8 215.5L508.8 215.4L510.8 215.4L512.8 215.3L514.8 215.2L516.8 215.2L518.8 215.1L520.8 215.1L522.8 215L524.8 215L526.8 214.9L528.8 214.8L530.8 214.8L532.8 214.7L534.8 214.7L536.8 214.6L538.8 214.6L540.8 214.5L542.8 214.4L544.8 214.4L546.8 214.3L548.8 214.2L550.8 214.2L552.8 214.1L554.8 214L556.8 213.9L558.8 213.8L560.8 213.7L562.8 213.6L564.8 213.5L566.8 213.4L568.8 213.3L570.8 213.2L572.8 213.1L574.8 213L576.8 212.9L578.8 212.8L580.8 212.7L582.8 212.5L584.8 212.4L586.8 212.3L588.8 212.2L590.8 212L592.8 211.9L594.8 211.8L596.8 211.7L598.7 211.5L600.7 211.4L602.7 211.3L604.7 211.1L606.7 211L608.7 210.9L610.7 210.7L612.7 210.6L614.7 210.4L616.7 210.2L618.7 210.1L620.7 209.9L622.7 209.7L624.7 209.5L626.6 209.3L628.6 209.1L630.6 208.9L632.6 208.7L634.6 208.4L636.6 208.2L638.5 207.9L640.5 207.6L642.5 207.4L644.5 207.1L646.5 206.8L648.4 206.5L650.4 206.1L652.4 205.8L654.3 205.5L656.3 205.1L658.3 204.8L660.2 204.4L662.2 204L664.1 203.6L666.1 203.2L668 202.8L670 202.3L671.9 201.9L673.9 201.4L675.8 201L677.7 200.5L679.7 200L681.6 199.5L683.5 198.9L685.4 198.4L687.3 197.8L689.2 197.2L691.1 196.6L693 195.9L694.9 195.3L696.8 194.6L698.6 193.9L700.5 193.2L702.3 192.4L704.2 191.6L706 190.7L707.8 189.9L709.5 189L711.3 188.1L713.1 187.3L715 186.5L716.8 185.7L718.7 185L720.5 184.3L722.4 183.6L724.3 183L726.2 182.3L728.1 181.8L730 181.2L732 180.7L733.9 180.2L735.8 179.7L737.8 179.2L739.7 178.8L741.6 178.3L743.6 177.9L745.6 177.5L747.5 177.1L749.5 176.7L751.4 176.3L753.4 176L755.3 175.6L757.3 175.2L759.3 174.9L761.2 174.6L763.2 174.3L765.2 173.9L767.2 173.7L769.1 173.4L771.1 173.1L773.1 172.8L775.1 172.6L777.1 172.3L779 172.1L781 171.8L783 171.6L785 171.4L787 171.2L789 170.9L791 170.7L793 170.5L794.9 170.3L796.9 170.1L798.9 169.9L800.9 169.7L802.9 169.5L804.9 169.4L806.9 169.2L808.9 169L810.9 168.9L812.9 168.7L814.9 168.6L816.8 168.4L818.8 168.3L820.8 168.1L822.8 168L824.8 167.9L826.8 167.8L828.8 167.6L830.8 167.5L832.8 167.4L834.8 167.3L836.8 167.2L838.8 167.1L840.8 167L842.8 166.9L844.8 166.8L846.8 166.7L848.8 166.6L850.8 166.5L852.8 166.4L854.8 166.3L856.8 166.2L858.8 166.1L860.8 166L862.8 165.9L864.8 165.8L866.8 165.7L868.8 165.6L870.8 165.5L872.8 165.4L874.8 165.4L876.8 165.3L878.8 165.2L880.8 165.1L882.8 165L884.8 165L886.8 164.9L888.8 164.8L890.7 164.8L892.7 164.7L894.7 164.6L896.7 164.6L898.7 164.5L900.7 164.5L902.7 164.4L904.7 164.4L906.7 164.3L908.7 164.2L910.7 164.2L912.7 164.1L914.7 164.1L916.7 164L918.7 164L920.7 163.9L922.7 163.9L924.7 163.8L926.7 163.7L928.7 163.7L930.7 163.6L932.7 163.6L934.7 163.5L936.7 163.5L938.7 163.4L940.7 163.4L942.7 163.3L944.7 163.2L946.7 163.2L948.7 163.1L950.7 163L952.7 163L954.7 162.9L956.7 162.8L958.7 162.8L960.7 162.7L962.7 162.6L964.7 162.5L966.7 162.4L968.7 162.4L970.7 162.3L972.7 162.2L974.7 162.1L976.7 162L978.7 161.9L980.7 161.8L982.7 161.8L984.7 161.7L986.7 161.6L988.7 161.5L990.7 161.4L992.7 161.3L994.7 161.2L996.7 161.1L998.7 161L1000.7 160.9L1002.7 160.8L1004.7 160.7L1006.7 160.7L1008.7 160.6L1010.7 160.5L1012.7 160.4L1014.7 160.3L1016.7 160.2L1018.7 160.1L1020.7 160L1022.7 159.9L1024.7 159.8L1026.6 159.7L1028.6 159.7L1030.6 159.6L1032.6 159.5L1034.6 159.4L1036.6 159.4L1038.6 159.3L1040.6 159.3L1042.6 159.2L1044.6 159.2L1046.6 159.1L1048.6 159.1L1050.6 159.1L1052.6 159L1054.6 159L1056.6 159L1058.6 159L1060.6 158.9L1062.6 158.9L1064.6 158.9L1066.6 158.9L1068.6 158.9L1070.6 158.9L1072.6 158.8L1074.6 158.8L1076.6 158.8L1078.6 158.8L1080.6 158.8L1082.6 158.8L1084.6 158.8L1086.6 158.8L1088.6 158.8L1090.6 158.7L1092.6 158.7L1094.6 158.7L1096.6 158.7L1098.6 158.7L1100.6 158.7L1102.6 158.7L1104.6 158.7L1106.6 158.7L1108.6 158.7L1110.6 158.6L1112.6 158.6L1114.6 158.6L1116.6 158.6L1118.6 158.6L1120.6 158.6L1122.6 158.6L1124.6 158.6L1126.6 158.6L1128.6 158.6L1130.6 158.6L1132.6 158.6L1134.6 158.6L1136.6 158.6L1138.6 158.6L1140.6 158.6L1142.6 158.6L1144.6 158.6L1146.6 158.6L1148.6 158.6L1150.6 158.6L1152.6 158.6L1154.6 158.7L1156.6 158.7L1158.6 158.7L1160.6 158.7L1162.6 158.7L1164.6 158.7L1166.6 158.8L1168.6 158.8L1170.6 158.8L1172.6 158.8L1174.6 158.8L1176.6 158.8L1178.6 158.9L1180.6 158.9L1182.6 158.9L1184.6 158.9L1186.6 158.9L1188.6 159L1190.6 159L1192.6 159L1194.6 159L1196.6 159L1198.6 159L1200.6 159.1L1202.6 159.1L1204.6 159.1L1206.6 159.1L1208.6 159.1L1210.6 159.2L1212.6 159.2L1214.6 159.2L1216.6 159.2L1218.6 159.3L1220.6 159.3L1222.6 159.3L1224.6 159.3L1226.6 159.4L1228.6 159.4L1230.6 159.4L1232.6 159.5L1234.6 159.5L1236.6 159.6L1238.6 159.6L1240.6 159.7L1242.6 159.8L1244.6 159.8L1246.6 159.9L1248.6 160L1250.6 160.1L1252.6 160.2L1254.6 160.3L1256.6 160.5L1258.6 160.6L1260.6 160.8L1262.6 160.9L1264.5 161.1L1266.5 161.3L1268.5 161.5L1270.5 161.7L1272.5 161.9L1274.5 162.2L1276.4 162.4L1278.4 162.7L1280.4 163L1282.4 163.3L1284.3 163.6L1286.3 163.9L1288.3 164.3L1290.2 164.6L1292.2 165L1294.2 165.3L1296.1 165.7L1298.1 166.1L1300 166.5L1302 166.9L1304 167.2L1305.9 167.6L1307.9 168L1309.8 168.4L1311.8 168.8L1313.8 169.2L1315.7 169.6L1317.7 170L1319.6 170.4L1321.6 170.9L1323.6 171.3L1325.5 171.7L1327.5 172.1L1329.4 172.5L1331.4 172.9L1333.3 173.3L1335.3 173.7L1337.2 174.2L1339.2 174.6L1341.1 175L1343.1 175.5L1345 175.9L1347 176.4L1348.9 176.8L1350.9 177.3L1352.8 177.8L1354.7 178.3L1356.7 178.8L1358.6 179.3L1360.5 179.9L1362.4 180.4L1364.4 181L1366.3 181.5L1368.2 182.1L1370.1 182.7L1372 183.4L1373.8 184L1375.7 184.7L1377.6 185.4L1379.4 186.1L1381.3 186.8L1383.1 187.6L1385 188.3L1386.8 189.1L1388.6 189.9L1390.4 190.7L1392.3 191.6L1394.1 192.4L1395.8 193.3L1397.6 194.2L1399.4 195.1L1401.2 196L1403 196.9L1404.7 197.9L1406.5 198.8L1408.2 199.8L1410 200.7L1411.7 201.7L1413.4 202.7L1415.2 203.7L1416.9 204.7L1418.6 205.7L1420.3 206.8L1422 207.8L1423.7 208.9L1425.4 209.9L1427.1 211L1428.8 212.1L1430.5 213.1L1432.1 214.2L1433.8 215.4L1435.5 216.5L1437.1 217.6L1438.7 218.7L1440.4 219.9L1442 221.1L1443.6 222.2L1445.2 223.4L1446.8 224.6L1448.4 225.8L1450 227L1451.5 228.3L1453.1 229.5L1454.6 230.8L1456.2 232.1L1457.7 233.4L1459.2 234.7L1460.7 236L1462.1 237.3L1463.6 238.7L1465.1 240L1466.5 241.4L1467.9 242.8L1469.3 244.2L1470.7 245.7L1472.1 247.1L1473.4 248.6L1474.8 250L1476.1 251.5L1477.5 253L1478.8 254.5L1480.1 256L1481.4 257.5L1482.6 259.1L1483.9 260.6L1485.1 262.2L1486.4 263.7L1487.6 265.3L1488.8 266.9L1490 268.5L1491.2 270.1L1492.4 271.7L1493.6 273.3L1494.7 274.9L1495.9 276.6L1497 278.2L1498.1 279.9L1499.2 281.5L1500.3 283.2L1501.4 284.9L1502.5 286.5L1503.6 288.2L1504.6 289.9L1505.7 291.6L1506.7 293.3L1507.8 295L1508.8 296.7L1509.8 298.4L1510.8 300.2L1511.9 301.9L1512.9 303.6L1513.9 305.3L1514.9 307.1L1515.8 308.8L1516.8 310.6L1517.8 312.3L1518.8 314.1L1519.7 315.8L1520.7 317.6L1521.7 319.3L1522.6 321.1L1523.5 322.8L1524.4 324.6L1525.4 326.4L1526.3 328.2L1527.2 330L1528.1 331.7L1528.9 333.5L1529.8 335.3L1530.7 337.1L1531.5 338.9L1532.3 340.8L1533.2 342.6L1534 344.4L1534.8 346.2L1535.6 348L1536.5 349.9L1537.3 351.7L1538.1 353.5L1538.9 355.4L1539.7 357.2L1540.5 359L1541.3 360.9L1542.1 362.7L1542.9 364.5L1543.6 366.4L1544.4 368.2L1545.2 370L1546 371.9L1546.8 373.7L1547.5 375.6L1548.3 377.4L1549 379.3L1549.8 381.1L1550.5 383L1551.2 384.8L1552 386.7L1552.7 388.6L1553.4 390.4L1554.1 392.3L1554.7 394.2L1555.4 396.1L1556.1 398L1556.7 399.9L1557.4 401.7L1558 403.6L1558.6 405.5L1559.2 407.4L1559.8 409.3L1560.4 411.2L1561 413.2L1561.6 415.1L1562.2 417L1562.8 418.9L1563.4 420.8L1563.9 422.7L1564.5 424.6L1565 426.6L1565.6 428.5L1566.2 430.4L1566.7 432.3L1567.3 434.2L1567.8 436.2L1568.4 438.1L1568.9 440L1569.5 441.9L1570.1 443.8L1570.6 445.8L1571.2 447.7L1571.8 449.6L1572.4 451.5L1572.9 453.4L1573.5 455.3L1574.1 457.2L1574.7 459.1L1575.3 461.1L1575.9 463L1576.5 464.9L1577.1 466.8L1577.7 468.7L1578.3 470.6L1578.9 472.5L1579.5 474.4L1580.1 476.3L1580.7 478.2L1581.3 480.1L1581.9 482L1582.5 483.9L1583.1 485.9L1583.7 487.8L1584.3 489.7L1584.9 491.6L1585.5 493.5L1586.1 495.4L1586.6 497.3L1587.2 499.2L1587.8 501.2L1588.4 503.1L1588.9 505L1589.5 506.9L1590.1 508.8L1590.7 510.7L1591.2 512.7L1591.8 514.6L1592.3 516.5L1592.9 518.4L1593.5 520.3L1594 522.3L1594.6 524.2L1595.2 526.1L1595.7 528L1596.3 529.9L1596.8 531.9L1597.4 533.8L1597.9 535.7L1598.5 537.6L1599.1 539.5L1599.6 541.5L1600.2 543.4L1600.7 545.3L1601.3 547.2L1601.8 549.1L1602.4 551.1L1603 553L1603.5 554.9L1604.1 556.8L1604.6 558.7L1605.2 560.7L1605.7 562.6L1606.3 564.5L1606.8 566.4L1607.4 568.4L1607.9 570.3L1608.4 572.2L1609 574.1L1609.5 576.1L1610 578L1610.5 579.9L1611.1 581.9L1611.6 583.8L1612.1 585.7L1612.6 587.7L1613.1 589.6L1613.6 591.5L1614.1 593.5L1614.6 595.4L1615.1 597.3L1615.5 599.3L1616 601.2L1616.5 603.2L1617 605.1L1617.4 607.1L1617.9 609L1618.3 611L1618.8 612.9L1619.3 614.8L1619.7 616.8L1620.1 618.7L1620.6 620.7L1621 622.7L1621.4 624.6L1621.9 626.6L1622.3 628.5L1622.7 630.5L1623.1 632.4L1623.5 634.4L1623.9 636.3L1624.4 638.3L1624.8 640.3L1625.2 642.2L1625.6 644.2L1626 646.1L1626.4 648.1L1626.9 650L1627.3 652L1627.7 653.9L1628.1 655.9L1628.6 657.8L1629 659.8L1629.5 661.7L1630 663.7L1630.4 665.6L1630.9 667.6L1631.4 669.5L1631.9 671.4L1632.4 673.4L1632.8 675.3L1633.3 677.2L1633.8 679.2L1634.3 681.1L1634.8 683.1L1635.3 685L1635.8 686.9L1636.3 688.9L1636.7 690.8L1637.2 692.8L1637.7 694.7L1638.1 696.6L1638.6 698.6L1639 700.5L1639.4 702.5L1639.9 704.5L1640.3 706.4L1640.7 708.4L1641.1 710.3L1641.5 712.3L1641.9 714.2L1642.2 716.2L1642.6 718.2L1643 720.1L1643.4 722.1L1643.7 724.1L1644.1 726L1644.5 728L1644.9 730L1645.2 731.9L1645.6 733.9L1646 735.8L1646.4 737.8L1646.8 739.8L1647.2 741.7L1647.6 743.7L1648 745.6L1648.4 747.6L1648.8 749.5L1649.3 751.5L1649.7 753.5L1650.1 755.4L1650.5 757.4L1651 759.3L1651.4 761.3L1651.9 763.2L1652.3 765.2L1652.8 767.1L1653.2 769L1653.7 771L1654.2 772.9L1654.6 774.9L1655.1 776.8L1655.5 778.8L1656 780.7L1656.5 782.7L1656.9 784.6L1657.4 786.6L1657.9 788.5L1658.4 790.4L1658.8 792.4L1659.3 794.3L1659.8 796.3L1660.3 798.2L1660.8 800.1L1661.3 802.1L1661.8 804L1662.3 806L1662.8 807.9L1663.3 809.8L1663.8 811.7L1664.4 813.7L1664.9 815.6L1665.4 817.5L1666 819.4L1666.5 821.4L1667.1 823.3L1667.7 825.2L1668.2 827.1L1668.8 829L1669.4 830.9L1669.9 832.9L1670.5 834.8L1671.1 836.7L1671.7 838.6L1672.2 840.5L1672.8 842.4L1673.4 844.4L1673.9 846.3L1674.5 848.2L1675 850.1L1675.6 852L1676.1 854L1676.7 855.9L1677.2 857.8L1677.8 859.7L1678.3 861.7L1678.8 863.6L1679.4 865.5L1679.9 867.5L1680.4 869.4L1680.9 871.3L1681.5 873.2L1682 875.2L1682.5 877.1L1683.1 879L1683.6 880.9L1684.2 882.8L1684.8 884.8L1685.3 886.7L1685.9 888.6L1686.5 890.5L1687.1 892.4L1687.7 894.3L1688.4 896.2L1689 898.1L1689.7 900L1690.3 901.8L1691 903.7L1691.7 905.6L1692.4 907.5L1693 909.4L1693.8 911.2L1694.5 913.1L1695.2 915L1695.9 916.8L1696.6 918.7L1697.4 920.5L1698.1 922.4L1698.9 924.2L1699.7 926.1L1700.4 927.9L1701.2 929.8L1702 931.6L1702.8 933.4L1703.7 935.2L1704.5 937L1705.4 938.8L1706.2 940.6L1707.1 942.3L1708.1 944.1L1709 945.8L1710 947.5L1710.9 949.3L1711.9 951L1712.8 952.7L1713.9 954.4L1714.9 956L1716 957.6L1717.1 959.2L1718.3 960.8L1719.5 962.3L1720.7 963.7L1722 965.1L1723.4 966.4L1724.9 967.6L1726.4 968.7L1728 969.7L1729.6 970.6L1731.4 971.4L1733.2 972L1735 972.5L1736.9 972.9L1738.8 973.2L1740.7 973.1L1742.6 972.7L1744.4 972.1L1746.2 971.5L1748 970.6L1749.6 969.7L1751.2 968.7L1752.8 967.5L1754.3 966.3L1755.8 965.1L1757.2 963.7L1758.6 962.3L1759.9 960.9L1761.1 959.4L1762.4 957.9L1763.5 956.3L1764.7 954.7L1765.8 953.1L1766.9 951.5L1768 949.8L1769 948.2L1770.1 946.5L1771.2 944.9L1772.2 943.2L1773.2 941.5L1774.2 939.8L1775.2 938L1776.2 936.3L1777.2 934.6L1778.1 932.8L1779.1 931.1L1780 929.3L1780.9 927.5L1781.9 925.8L1782.8 924L1783.7 922.2L1784.7 920.5L1785.6 918.7L1786.5 916.9L1787.4 915.1L1788.3 913.3L1789.2 911.6L1790.1 909.8L1791 908L1791.9 906.2L1792.8 904.4L1793.7 902.6L1794.6 900.8L1795.5 899L1796.3 897.2L1797.2 895.4L1798.1 893.6L1798.9 891.8L1799.7 890L1800.6 888.2L1801.4 886.4L1802.2 884.5L1803 882.7L1803.8 880.9L1804.6 879L1805.4 877.2L1806.1 875.4L1806.9 873.5L1807.7 871.7L1808.5 869.8L1809.2 868L1810 866.1L1810.7 864.3L1811.5 862.4L1812.2 860.6L1813 858.7L1813.7 856.9L1814.5 855L1815.2 853.2L1816 851.3L1816.7 849.4L1817.5 847.6L1818.2 845.7L1819 843.9L1819.8 842L1820.5 840.2L1821.3 838.3L1822.1 836.5L1822.8 834.7L1823.6 832.8L1824.4 831L1825.2 829.1L1826 827.3L1826.8 825.5L1827.6 823.7L1828.4 821.8L1829.3 820L1830.1 818.2L1830.9 816.4L1831.8 814.6L1832.6 812.8L1833.5 811L1834.4 809.2L1835.2 807.4L1836.1 805.6L1837 803.8L1837.9 802L1838.7 800.2L1839.6 798.4L1840.5 796.6L1841.4 794.8L1842.3 793L1843.1 791.2L1844 789.4L1844.9 787.6L1845.7 785.8L1846.6 784L1847.5 782.2L1848.3 780.4L1849.2 778.6L1850.1 776.8L1850.9 775L1851.8 773.2L1852.7 771.4L1853.5 769.6L1854.4 767.8L1855.3 766L1856.2 764.2L1857 762.4L1857.9 760.6L1858.8 758.8L1859.7 757L1860.6 755.2L1861.5 753.4L1862.4 751.6L1863.3 749.9L1864.2 748.1L1865.1 746.3L1866 744.5L1866.9 742.7L1867.8 741L1868.8 739.2L1869.7 737.4L1870.6 735.6L1871.6 733.9L1872.5 732.1L1873.4 730.3L1874.4 728.6L1875.3 726.8L1876.2 725L1877.2 723.3L1878.1 721.5L1879 719.7L1880 718L1880.9 716.2L1881.9 714.4L1882.8 712.7L1883.7 710.9L1884.7 709.1L1885.6 707.4L1886.5 705.6L1887.4 703.8L1888.3 702L1889.3 700.3L1890.2 698.5L1891.1 696.7L1892 694.9L1892.9 693.1L1893.8 691.3L1894.7 689.5L1895.6 687.8L1896.4 686L1897.3 684.2L1898.2 682.4L1899.1 680.6L1900 678.8L1900.8 677L1901.7 675.2L1902.6 673.4L1903.4 671.6L1904.3 669.8L1905.2 668L1906 666.2L1906.9 664.4L1907.8 662.6L1908.7 660.8L1909.5 659L1910.4 657.2L1911.3 655.4L1912.2 653.6L1913.1 651.8L1914 650L1914.9 648.3L1915.9 646.5L1916.8 644.7L1917.7 643L1918.7 641.2L1919.6 639.4L1920.6 637.7L1921.6 636L1922.5 634.2L1923.5 632.5L1924.5 630.7L1925.5 629L1926.6 627.3L1927.6 625.6L1928.6 623.9L1929.7 622.2L1930.7 620.5L1931.8 618.8L1932.8 617.1L1933.9 615.4L1935 613.7L1936.1 612.1L1937.2 610.4L1938.3 608.7L1939.4 607.1L1940.5 605.4L1941.7 603.8L1942.8 602.1L1943.9 600.5L1945.1 598.8L1946.2 597.2L1947.4 595.6L1948.6 594L1949.8 592.3L1950.9 590.7L1952.1 589.1L1953.3 587.5L1954.5 585.9L1955.7 584.3L1956.9 582.7L1958.1 581.1L1959.3 579.6L1960.6 578L1961.8 576.4L1963 574.8L1964.2 573.2L1965.5 571.7L1966.7 570.1L1967.9 568.5L1969.2 566.9L1970.4 565.4L1971.7 563.8L1972.9 562.2L1974.2 560.7L1975.4 559.1L1976.7 557.6L1978 556L1979.2 554.5L1980.5 553L1981.8 551.4L1983.1 549.9L1984.4 548.4L1985.7 546.9L1987 545.4L1988.3 543.9L1989.7 542.4L1991 540.9L1992.3 539.4L1993.7 538L1995 536.5L1996.4 535L1997.8 533.6L1999.1 532.1L2000.5 530.7L2001.9 529.2L2003.2 527.8L2004.6 526.3L2005.9 524.9L2007.3 523.4L2008.6 521.9L2010 520.5L2011.3 519L2012.6 517.5L2013.9 516L2015.3 514.5L2016.6 513L2017.9 511.5L2019.2 510L2020.5 508.5L2021.8 507.1L2023.2 505.6L2024.5 504.1L2025.8 502.6L2027.2 501.1L2028.5 499.7L2029.9 498.2L2031.3 496.8L2032.6 495.3L2034 493.9L2035.4 492.5L2036.8 491.1L2038.3 489.7L2039.7 488.3L2041.1 486.9L2042.6 485.5L2044 484.1L2045.5 482.8L2046.9 481.4L2048.4 480.1L2049.9 478.7L2051.4 477.4L2052.9 476L2054.4 474.7L2055.9 473.4L2057.4 472.1L2058.9 470.8L2060.4 469.5L2062 468.3L2063.5 467L2065.1 465.7L2066.6 464.5L2068.2 463.2L2069.8 462L2071.3 460.8L2072.9 459.6L2074.5 458.3L2076.1 457.1L2077.7 455.9L2079.3 454.8L2080.9 453.6L2082.5 452.4L2084.2 451.2L2085.8 450.1L2087.4 448.9L2089 447.7L2090.7 446.6L2092.3 445.5L2094 444.3L2095.6 443.2L2097.3 442.1L2098.9 441L2100.6 439.9L2102.3 438.8L2104 437.7L2105.6 436.7L2107.3 435.6L2109 434.6L2110.8 433.6L2112.5 432.5L2114.2 431.6L2115.9 430.6L2117.7 429.6L2119.4 428.7L2121.2 427.8L2122.9 426.9L2124.7 426L2126.5 425.1L2128.3 424.3L2130.1 423.4L2131.9 422.6L2133.7 421.8L2135.5 421L2137.3 420.2L2139.1 419.4" fill="none" stroke="#ff0000" stroke-width="5.6"/>
<rect x="286.1" y="47.8" width="2.6" height="1060.9" fill="#2e2e2e"/><rect x="288.7" y="52.9" width="2.7" height="1050.2" fill="#9a9a9a"/><rect x="286.1" y="47.8" width="1856.8" height="5.1" fill="#585858"/><rect x="2136.9" y="47.8" width="3.3" height="1060.9" fill="#484848"/><rect x="2140.2" y="47.8" width="2.7" height="1060.9" fill="#686868"/><rect x="286.1" y="1103.1" width="1856.8" height="2.65" fill="#1e1e1e"/><rect x="286.1" y="1105.75" width="1856.8" height="2.95" fill="#9a9a9a"/>
<path d="M288.7 154.2H304.9M288.7 261H304.9M288.7 364.6H304.9M288.7 471H304.9M288.7 577.8H304.9M288.7 681.5H304.9M288.7 788.1H304.9M288.7 891.7H304.9M288.7 998.3H304.9M2136.9 154.4H2118.9M2136.9 261H2118.9M2136.9 363H2118.9M2136.9 471H2118.9M2136.9 577.6H2118.9M2136.9 680.6H2118.9M2136.9 787.1H2118.9M2136.9 891.9H2118.9M2136.9 997.1H2118.9M573.6 1103.1V1085M573.6 52.9V67.5M865.8 1103.1V1085M865.8 52.9V67.5M1154.3 1103.1V1085M1154.3 52.9V67.5M1442.9 1103.1V1085M1442.9 52.9V67.5M1731.6 1103.1V1085M1731.6 52.9V67.5M2023.6 1103.1V1085M2023.6 52.9V67.5" stroke="#d4d4d4" stroke-width="5.6" fill="none"/>
<path d="M288.7 154.2H304.9M288.7 261H304.9M288.7 364.6H304.9M288.7 471H304.9M288.7 577.8H304.9M288.7 681.5H304.9M288.7 788.1H304.9M288.7 891.7H304.9M288.7 998.3H304.9M2136.9 154.4H2118.9M2136.9 261H2118.9M2136.9 363H2118.9M2136.9 471H2118.9M2136.9 577.6H2118.9M2136.9 680.6H2118.9M2136.9 787.1H2118.9M2136.9 891.9H2118.9M2136.9 997.1H2118.9M573.6 1103.1V1085M573.6 52.9V67.5M865.8 1103.1V1085M865.8 52.9V67.5M1154.3 1103.1V1085M1154.3 52.9V67.5M1442.9 1103.1V1085M1442.9 52.9V67.5M1731.6 1103.1V1085M1731.6 52.9V67.5M2023.6 1103.1V1085M2023.6 52.9V67.5" stroke="#1a1a1a" stroke-width="2.8" fill="none"/>
<text class="s" font-size="65.4" transform="translate(191.00 67.20) scale(1.0312 1)" stroke="#fff" stroke-width="1.2">1</text>
<text class="s" font-size="65.4" transform="translate(167.75 170.70) scale(0.9374 1)" stroke="#fff" stroke-width="1.2">0.9</text>
<text class="s" font-size="65.4" transform="translate(167.77 272.40) scale(0.9303 1)" stroke="#fff" stroke-width="1.2">0.8</text>
<text class="s" font-size="65.4" transform="translate(167.75 385.00) scale(0.9374 1)" stroke="#fff" stroke-width="1.2">0.7</text>
<text class="s" font-size="65.4" transform="translate(167.77 486.70) scale(0.9303 1)" stroke="#fff" stroke-width="1.2">0.6</text>
<text class="s" font-size="65.4" transform="translate(167.77 595.60) scale(0.9303 1)" stroke="#fff" stroke-width="1.2">0.5</text>
<text class="s" font-size="65.4" transform="translate(167.78 702.20) scale(0.9232 1)" stroke="#fff" stroke-width="1.2">0.4</text>
<text class="s" font-size="65.4" transform="translate(167.77 815.40) scale(0.9303 1)" stroke="#fff" stroke-width="1.2">0.3</text>
<text class="s" font-size="65.4" transform="translate(167.75 923.90) scale(0.9374 1)" stroke="#fff" stroke-width="1.2">0.2</text>
<text class="s" font-size="65.4" transform="translate(167.75 1031.00) scale(0.9374 1)" stroke="#fff" stroke-width="1.2">0.1</text>
<text class="s" font-size="65.4" transform="translate(192.39 1134.00) scale(0.9588 1)" stroke="#fff" stroke-width="1.2">0</text>
<text class="s" font-size="65.4" transform="translate(499.43 1185.80) scale(1.0007 1)" stroke="#fff" stroke-width="1.2">200</text>
<text class="s" font-size="65.4" transform="translate(798.52 1185.80) scale(0.9820 1)" stroke="#fff" stroke-width="1.2">400</text>
<text class="s" font-size="65.4" transform="translate(1094.89 1185.80) scale(0.9803 1)" stroke="#fff" stroke-width="1.2">600</text>
<text class="s" font-size="65.4" transform="translate(1392.32 1185.80) scale(0.9847 1)" stroke="#fff" stroke-width="1.2">800</text>
<text class="s" font-size="65.4" transform="translate(1665.93 1185.80) scale(1.0026 1)" stroke="#fff" stroke-width="1.2"><tspan font-family='"IPAGothic", "Liberation Sans", sans-serif' dy="3.2">1</tspan><tspan dy="-3.2">000</tspan></text>
<text class="s" font-size="65.4" transform="translate(1960.45 1185.80) scale(1.0133 1)" stroke="#fff" stroke-width="1.2"><tspan font-family='"IPAGothic", "Liberation Sans", sans-serif' dy="3.2">1</tspan><tspan dy="-3.2">200</tspan></text>
<text class="s" font-size="89.4" transform="translate(692.84 1311.70) scale(0.9395 1)">Incident</text>
<text class="s" font-size="89.4" transform="translate(1015.23 1311.70) scale(0.9418 1)">angle</text>
<text class="s" font-size="89.4" transform="translate(1248.10 1311.70) scale(0.9435 1)">position</text>
<text class="s" font-size="89.4" transform="translate(1570.54 1311.70) scale(0.9254 1)">(Pixel)</text>
<text class="s" font-size="89.4" transform="translate(506.21 748.10) scale(0.9633 1)">Full</text>
<text class="s" font-size="89.4" transform="translate(664.15 748.10) scale(0.9511 1)">SPR</text>
<text class="s" font-size="89.4" transform="translate(865.79 748.10) scale(0.9532 1)">curve</text>
<text class="s" font-size="89.4" transform="translate(506.39 854.70) scale(0.9521 1)">Fitting</text>
<text class="s" font-size="89.4" transform="translate(761.71 854.70) scale(0.9494 1)">curve</text>
<text class="i" font-size="86.5" transform="translate(505.53 971.12) scale(1.2000 1)">1</text>
<text class="s" font-size="56.0" transform="translate(554.26 940.00) scale(1.0328 1)">st</text>
<text class="s" font-size="89.4" transform="translate(620.38 967.30) scale(0.9272 1)">derivative</text>
<text class="s" font-size="89.4" transform="translate(1009.98 967.30) scale(0.9555 1)">curve</text>
<text class="t" font-size="81.5" transform="translate(733.16 294.99) scale(1.0781 1)">θ</text>
<text class="m" font-size="68.2" transform="translate(793.69 317.10) scale(0.9302 1)">CA</text>
<text class="t" font-size="71.2" transform="translate(1766.63 1045.79) scale(1.0377 1)">θ</text>
<text class="m" font-size="56.3" transform="translate(1819.32 1065.40) scale(1.0268 1)">SPR</text>
<text class="s" font-size="88.7" transform="translate(90.7 709.90) rotate(-90) scale(0.9525 1)">Intensity</text>
<path d="M357 726h33.6M401 726h31.4M445 726h31.3" stroke="#000" stroke-width="11"/>
<path d="M358 828h121.6" stroke="#ff0000" stroke-width="9.6"/>
<path d="M356 929.2h122.3" stroke="#0000ff" stroke-width="10.4"/>
<path d="M715.2 196V358" stroke="#000" stroke-width="2.6"/>
<path d="M702.2 218L715.2 196L729 218" stroke="#333" stroke-width="2.2" fill="none"/>
<path d="M696.9 155.8L727.9 198.8M727.9 155.8L696.9 198.8" stroke="#00f59a" stroke-width="4.3"/>
<path d="M1726.2 957.3L1757.2 1000.3M1757.2 957.3L1726.2 1000.3" stroke="#00f59a" stroke-width="4.3"/>
<path d="M1584 976.2H1930" stroke="#000" stroke-width="3"/>
</svg></body></html>
